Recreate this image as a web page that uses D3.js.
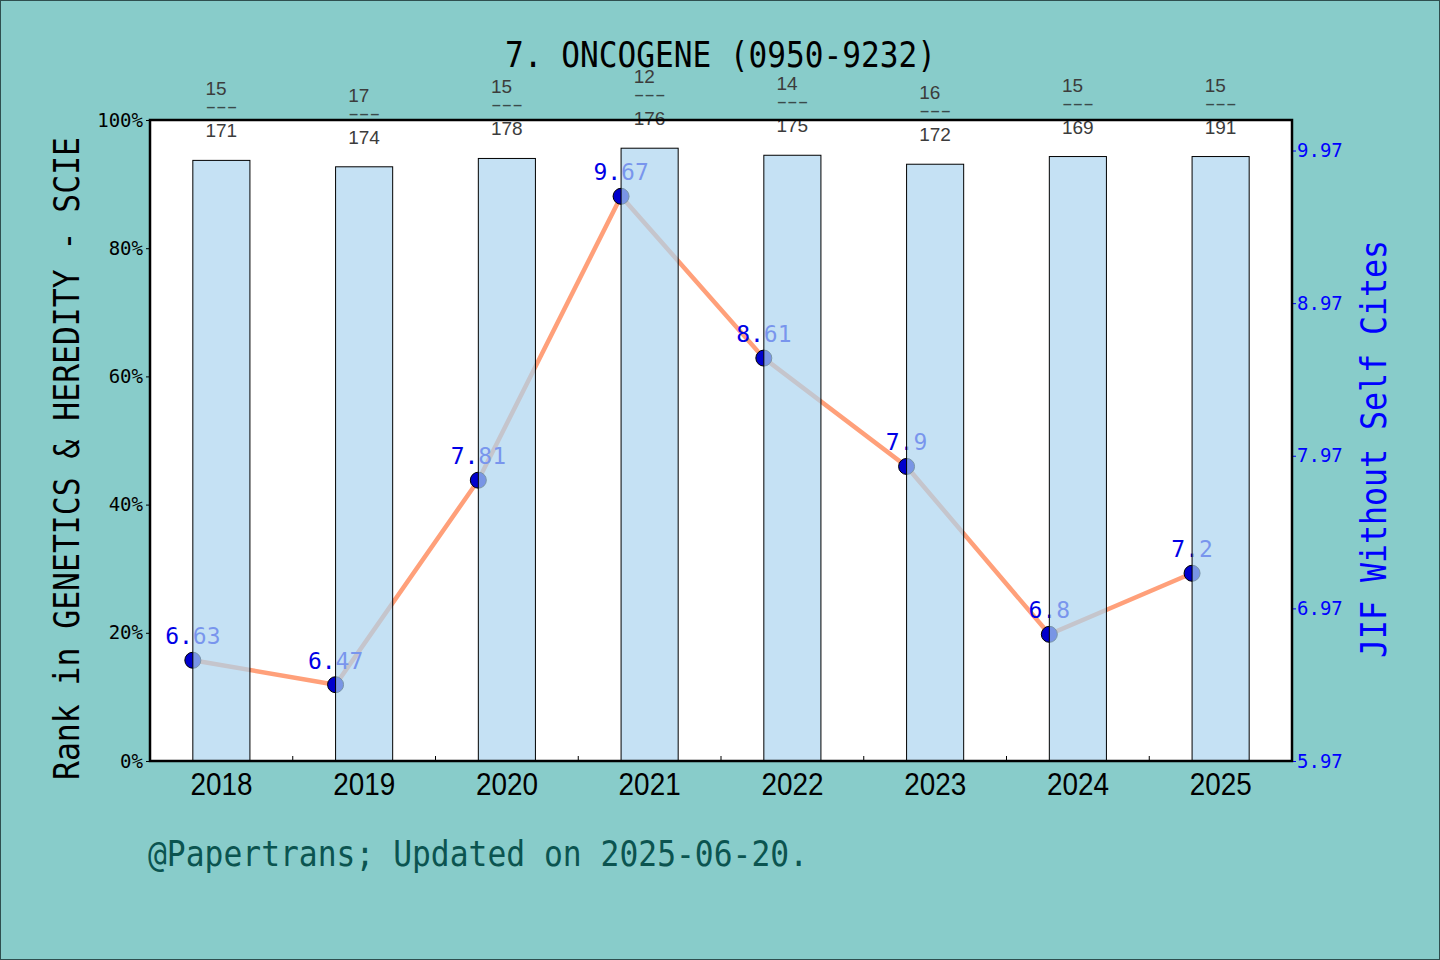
<!DOCTYPE html>
<html>
<head>
<meta charset="utf-8">
<script src="https://cdn.jsdelivr.net/npm/d3@7"></script>
<style>
  body { margin: 0; background: #88ccca; }
  svg { display: block; }
</style>
</head>
<body>
<svg id="chart"></svg>
<script>
// data
var years = ['2018', '2019', '2020', '2021', '2022', '2023', '2024', '2025'];
var jifNoSelf = [6.63, 6.47, 7.81, 9.67, 8.61, 7.9, 6.8, 7.2];
var rankPct = [93.7, 92.7, 94.0, 95.6, 94.5, 93.1, 94.3, 94.3];
var rankNo = [15, 17, 15, 12, 14, 16, 15, 15];
var rankTotal = [171, 174, 178, 176, 175, 172, 169, 191];
var leftTicks = [0, 20, 40, 60, 80, 100];
var rightTicks = [5.97, 6.97, 7.97, 8.97, 9.97];

var W = 1440, H = 960;
var mono = "'DejaVu Sans Mono', monospace";
var sans = "'Liberation Sans', Arial, sans-serif";

var svg = d3.select('#chart').attr('width', W).attr('height', H);

svg.append('rect').attr('x', 0.5).attr('y', 0.5).attr('width', W - 1).attr('height', H - 1)
	.attr('fill', '#88ccca').attr('stroke', '#2f4f4f').attr('stroke-width', 1);

var L = 150, R = 1292, T = 120, B = 761;

svg.append('rect').attr('x', L).attr('y', T).attr('width', R - L).attr('height', B - T).attr('fill', '#fff');

var x = d3.scaleBand().domain(years).range([L, R]).padding(0);
var barW = x.step() * 0.4;
var yL = d3.scaleLinear().domain([0, 100]).range([B, T]);
var yR = d3.scaleLinear().domain([d3.min(jifNoSelf) - 0.5, d3.max(jifNoSelf) + 0.5]).range([B, T]);

function barLeft(i) { return x(years[i]) + x.step() / 2 - barW / 2; }

/* line under the bars, bars are see-through */
var line = d3.line()
	.x(function(d, i) { return barLeft(i); })
	.y(function(d) { return yR(d); });

svg.append('path').datum(jifNoSelf)
	.attr('d', line)
	.attr('fill', 'none')
	.attr('stroke', '#ffa07a')
	.attr('stroke-width', 4.5);

svg.selectAll('.pt').data(jifNoSelf).enter().append('circle')
	.attr('class', 'pt')
	.attr('cx', function(d, i) { return barLeft(i); })
	.attr('cy', function(d) { return yR(d); })
	.attr('r', 8)
	.attr('fill', '#0000cd')
	.attr('stroke', '#000')
	.attr('stroke-width', 1);

svg.selectAll('.vlab').data(jifNoSelf).enter().append('text')
	.attr('class', 'vlab')
	.attr('x', function(d, i) { return barLeft(i); })
	.attr('y', function(d) { return yR(d) - 16; })
	.attr('text-anchor', 'middle')
	.style('font-family', mono)
	.style('font-size', '23px')
	.attr('fill', '#0000e6')
	.text(function(d) { return String(d); });

svg.selectAll('.bar').data(rankPct).enter().append('rect')
	.attr('class', 'bar')
	.attr('x', function(d, i) { return barLeft(i); })
	.attr('y', function(d) { return yL(d); })
	.attr('width', barW)
	.attr('height', function(d) { return B - yL(d); })
	.attr('fill', 'rgb(173,212,240)')
	.attr('fill-opacity', 0.7)
	.attr('stroke', '#000')
	.attr('stroke-width', 1);

/* rank / total above each bar */
var rankLab = svg.selectAll('.rk').data(rankPct).enter().append('g')
	.attr('class', 'rk')
	.attr('transform', function(d, i) { return 'translate(' + (x(years[i]) + x.step() / 2 - 16) + ',' + yL(d) + ')'; })
	.attr('fill', '#3c3c3c');

rankLab.append('text').attr('y', -65)
	.style('font-family', sans).style('font-size', '19px')
	.text(function(d, i) { return rankNo[i]; });
rankLab.append('text').attr('y', -47)
	.style('font-family', sans).style('font-size', '19px')
	.attr('textLength', 32).attr('lengthAdjust', 'spacingAndGlyphs')
	.attr('fill', '#3a4a4a')
	.text('---');
rankLab.append('text').attr('y', -23)
	.style('font-family', sans).style('font-size', '19px')
	.text(function(d, i) { return rankTotal[i]; });

/* axes */
var gL = svg.append('g').attr('transform', 'translate(' + L + ',0)')
	.call(d3.axisLeft(yL).tickValues(leftTicks).tickFormat(function(d) { return d + '%'; }).tickSize(4).tickPadding(3));
gL.select('.domain').remove();
gL.selectAll('text').style('font-family', mono).style('font-size', '19px').attr('fill', '#000');
gL.selectAll('line').attr('stroke', '#000');

var gR = svg.append('g').attr('transform', 'translate(' + R + ',0)')
	.call(d3.axisRight(yR).tickValues(rightTicks).tickFormat(d3.format('.2f')).tickSize(4).tickPadding(1));
gR.select('.domain').remove();
gR.selectAll('text').style('font-family', mono).style('font-size', '19px').attr('fill', '#0000ff');
gR.selectAll('line').attr('stroke', '#0000ff');

var gB = svg.append('g').attr('transform', 'translate(0,' + B + ')')
	.call(d3.axisBottom(x).tickSize(0));
gB.select('.domain').remove();
gB.selectAll('text')
	.attr('y', 34).attr('dy', null)
	.style('font-family', sans).style('font-size', '32px').attr('fill', '#000')
	.attr('textLength', 62).attr('lengthAdjust', 'spacingAndGlyphs');

// small ticks between the years, pointing in
svg.selectAll('.mt').data(years.slice(1)).enter().append('line')
	.attr('class', 'mt')
	.attr('x1', function(d) { return x(d); })
	.attr('x2', function(d) { return x(d); })
	.attr('y1', B).attr('y2', B - 5)
	.attr('stroke', '#000').attr('stroke-width', 1);

// frame
svg.append('rect').attr('x', L).attr('y', T).attr('width', R - L).attr('height', B - T)
	.attr('fill', 'none').attr('stroke', '#000').attr('stroke-width', 2.5);

/* titles */
svg.append('text')
	.attr('x', 720.5).attr('y', 67)
	.attr('text-anchor', 'middle')
	.style('font-family', mono).style('font-size', '35px')
	.attr('textLength', 431).attr('lengthAdjust', 'spacingAndGlyphs')
	.attr('fill', '#000')
	.text('7. ONCOGENE (0950-9232)');

svg.append('text')
	.attr('transform', 'translate(79,458.5) rotate(-90)')
	.attr('text-anchor', 'middle')
	.style('font-family', mono).style('font-size', '35px')
	.attr('textLength', 643).attr('lengthAdjust', 'spacingAndGlyphs')
	.attr('fill', '#000')
	.text('Rank in GENETICS & HEREDITY - SCIE');

svg.append('text')
	.attr('transform', 'translate(1386,449) rotate(-90)')
	.attr('text-anchor', 'middle')
	.style('font-family', mono).style('font-size', '35px')
	.attr('textLength', 418).attr('lengthAdjust', 'spacingAndGlyphs')
	.attr('fill', '#0000ff')
	.text('JIF Without Self Cites');

svg.append('text')
	.attr('x', 148).attr('y', 866)
	.style('font-family', mono).style('font-size', '35px')
	.attr('textLength', 660).attr('lengthAdjust', 'spacingAndGlyphs')
	.attr('fill', '#0b5450')
	.text('@Papertrans; Updated on 2025-06-20.');
</script>
</body>
</html>
